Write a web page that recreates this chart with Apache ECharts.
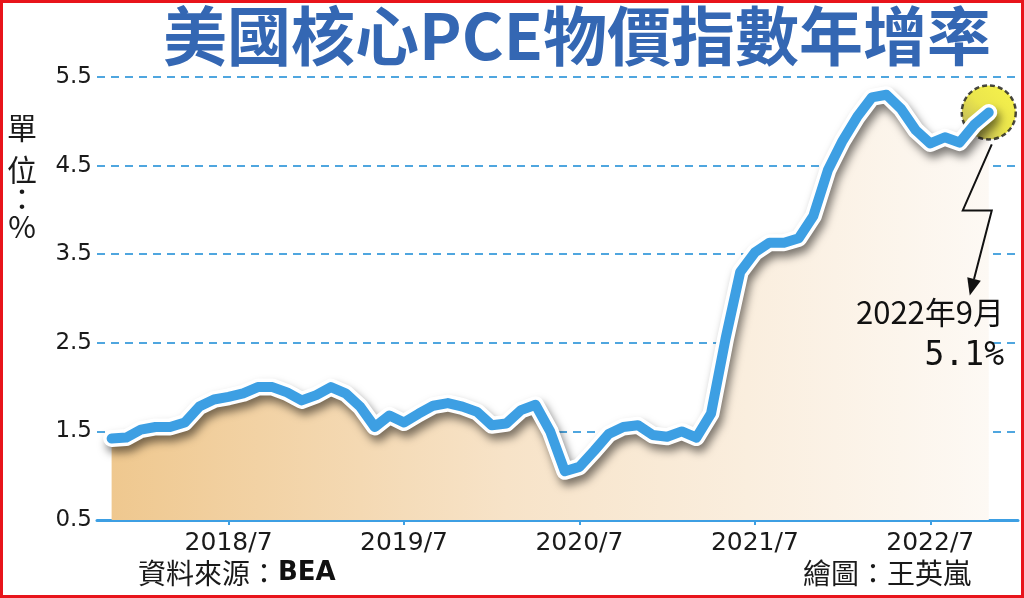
<!DOCTYPE html>
<html><head><meta charset="utf-8">
<script src="https://cdn.jsdelivr.net/npm/echarts@6/dist/echarts.min.js"></script>
<style>html,body{margin:0;padding:0;background:#fff}#c{width:1024px;height:598px}</style>
</head><body><div id="c"></div>
<script>
const categories = [
  '2017/10','2017/11','2017/12',
  '2018/1','2018/2','2018/3','2018/4','2018/5','2018/6','2018/7','2018/8','2018/9','2018/10','2018/11','2018/12',
  '2019/1','2019/2','2019/3','2019/4','2019/5','2019/6','2019/7','2019/8','2019/9','2019/10','2019/11','2019/12',
  '2020/1','2020/2','2020/3','2020/4','2020/5','2020/6','2020/7','2020/8','2020/9','2020/10','2020/11','2020/12',
  '2021/1','2021/2','2021/3','2021/4','2021/5','2021/6','2021/7','2021/8','2021/9','2021/10','2021/11','2021/12',
  '2022/1','2022/2','2022/3','2022/4','2022/5','2022/6','2022/7','2022/8','2022/9','2022/10','2022/11','2022/12',
  '2023/1'
];
const coreValues = [
  1.42, 1.43, 1.52, 1.55, 1.55, 1.60, 1.78, 1.86, 1.89, 1.93,
  2.00, 2.00, 1.94, 1.85, 1.91, 2.00, 1.93, 1.78, 1.55, 1.68,
  1.60, 1.70, 1.79, 1.82, 1.78, 1.72, 1.57, 1.59, 1.74, 1.80,
  1.50, 1.05, 1.10, 1.28, 1.47, 1.55, 1.57, 1.46, 1.44, 1.50,
  1.43, 1.70, 2.55, 3.30, 3.52, 3.63, 3.63, 3.68, 3.93, 4.45,
  4.78, 5.05, 5.27, 5.30, 5.14, 4.90, 4.75, 4.82, 4.76, 4.96,
  5.10
];
const dataStartIndex = 1;
const tickLabels = ['2018/7','2019/7','2020/7','2021/7','2022/7'];
const yMin = 0.5, yMax = 5.5, yStep = 1;
const titleText = '美國核心PCE物價指數年增率';
const unitChars = ['單', '位', '：', '%'];
const sourceText = '資料來源：';
const sourceName = 'BEA';
const authorText = '繪圖：王英嵐';
const noteDate = '2022年9月';
const noteValue = '5.1%';

const seriesData = categories.map((c, i) => {
  const k = i - dataStartIndex;
  return (k >= 0 && k < coreValues.length) ? coreValues[k] : null;
});
const lastIdx = dataStartIndex + coreValues.length - 1;
const lastPoint = [categories[lastIdx], coreValues[coreValues.length - 1]];

const BLUE = '#3d9fe3';
const chart = echarts.init(document.getElementById('c'));
chart.setOption({
  animation: false,
  backgroundColor: '#fff',
  title: {
    text: titleText, left: 158, top: -1,
    textStyle: { fontSize: 64, fontWeight: 'bold', color: '#3467b3', fontFamily: 'Noto Sans CJK TC' }
  },
  grid: { left: 97, right: 6, top: 77, bottom: 78 },
  xAxis: {
    type: 'category', data: categories, boundaryGap: false,
    axisLine: { lineStyle: { color: BLUE, width: 3 } },
    axisTick: { show: true, length: 5, lineStyle: { color: BLUE, width: 2 },
      interval: (i, v) => tickLabels.includes(v) },
    axisLabel: { interval: (i, v) => tickLabels.includes(v), margin: 11,
      fontSize: 25, color: '#1a1a1a', fontFamily: 'DejaVu Sans' },
    splitLine: { show: false }
  },
  yAxis: {
    type: 'value', min: yMin, max: yMax, interval: yStep,
    axisLine: { show: false }, axisTick: { show: false },
    axisLabel: { fontSize: 23, color: '#1a1a1a', margin: 5, fontFamily: 'DejaVu Sans',
      formatter: v => v.toFixed(1) },
    splitLine: { show: true, lineStyle: { color: '#4fa6df', width: 2, type: [8, 6] } }
  },
  series: [
    {
      type: 'line', data: seriesData, symbol: 'none', z: 1, silent: true,
      lineStyle: { width: 0, opacity: 0 },
      areaStyle: { opacity: 1, color: new echarts.graphic.LinearGradient(0, 0, 1, 0, [
        { offset: 0, color: '#efc88f' },
        { offset: 0.45, color: '#f7e3c8' },
        { offset: 1, color: '#fdf9f4' }
      ]) }
    },
    {
      type: 'scatter', data: [lastPoint], symbol: 'circle', symbolSize: 54, z: 2, silent: true,
      itemStyle: {
        color: new echarts.graphic.LinearGradient(1, 0, 0, 1, [
          { offset: 0, color: '#f6f21e' },
          { offset: 0.5, color: '#e6df20' },
          { offset: 1, color: '#9c9236' }
        ]),
        borderColor: '#1a1a1a', borderWidth: 2.5, borderType: [5, 3]
      }
    },
    {
      type: 'line', data: seriesData, symbol: 'none', z: 3, silent: true,
      lineStyle: { width: 17, color: '#ffffff', join: 'round', cap: 'round',
        shadowColor: 'rgba(0,0,0,0.5)', shadowBlur: 8, shadowOffsetX: 3, shadowOffsetY: 6 }
    },
    {
      type: 'line', data: seriesData, symbol: 'none', z: 4,
      lineStyle: { width: 10, color: BLUE, join: 'round', cap: 'round' }
    }
  ]
});

const p = chart.convertToPixel({ seriesIndex: 3 }, lastPoint);
const a0 = [p[0] + 3, p[1] + 32], a1 = [p[0] - 26, p[1] + 98], a2 = [p[0] + 3, p[1] + 98], tip = [p[0] - 19, p[1] + 183];
const dx = tip[0] - a2[0], dy = tip[1] - a2[1], len = Math.hypot(dx, dy);
const ux = dx / len, uy = dy / len, hl = 17, hw = 7;
const base = [tip[0] - ux * hl, tip[1] - uy * hl];
const unitTops = [113, 155, 184, 212];
const unitGraphics = unitChars.map((ch, i) => ({
  type: 'text', x: 22, y: unitTops[i], z: 50,
  style: { text: ch, fontSize: 30, fill: '#1a1a1a', fontFamily: 'Noto Sans CJK TC', align: 'center', verticalAlign: 'top' }
}));
chart.setOption({
  graphic: [
    { type: 'rect', shape: { x: 1.5, y: 1.5, width: 1021, height: 595 }, style: { fill: 'none', stroke: '#e8141b', lineWidth: 3 }, z: 100 },
    ...unitGraphics,
    { type: 'text', left: 138, top: 559, style: { text: sourceText + '{b|' + sourceName + '}', fontSize: 28, fill: '#1a1a1a', fontFamily: 'Noto Sans CJK TC',
        rich: { b: { fontSize: 26, fontWeight: 'bold', fill: '#111', fontFamily: 'DejaVu Sans' } } }, z: 50 },
    { type: 'text', left: 803, top: 559, style: { text: authorText, fontSize: 28, fill: '#1a1a1a', fontFamily: 'Noto Sans CJK TC' }, z: 50 },
    { type: 'text', right: 20, top: 297, style: { text: noteDate, fontSize: 31, fill: '#111', fontFamily: 'Noto Sans CJK TC' }, z: 50 },
    { type: 'text', right: 20, top: 340, style: { text: noteValue, fontSize: 33, fill: '#111', fontFamily: 'DejaVu Sans Mono' }, z: 50 },
    { type: 'polyline', shape: { points: [a0, a1, a2, base] }, style: { stroke: '#111', lineWidth: 2, fill: 'none' }, z: 50 },
    { type: 'polygon', shape: { points: [tip, [base[0] - uy * hw, base[1] + ux * hw], [base[0] + uy * hw, base[1] - ux * hw]] }, style: { fill: '#111' }, z: 50 }
  ]
});
</script>
</body></html>
